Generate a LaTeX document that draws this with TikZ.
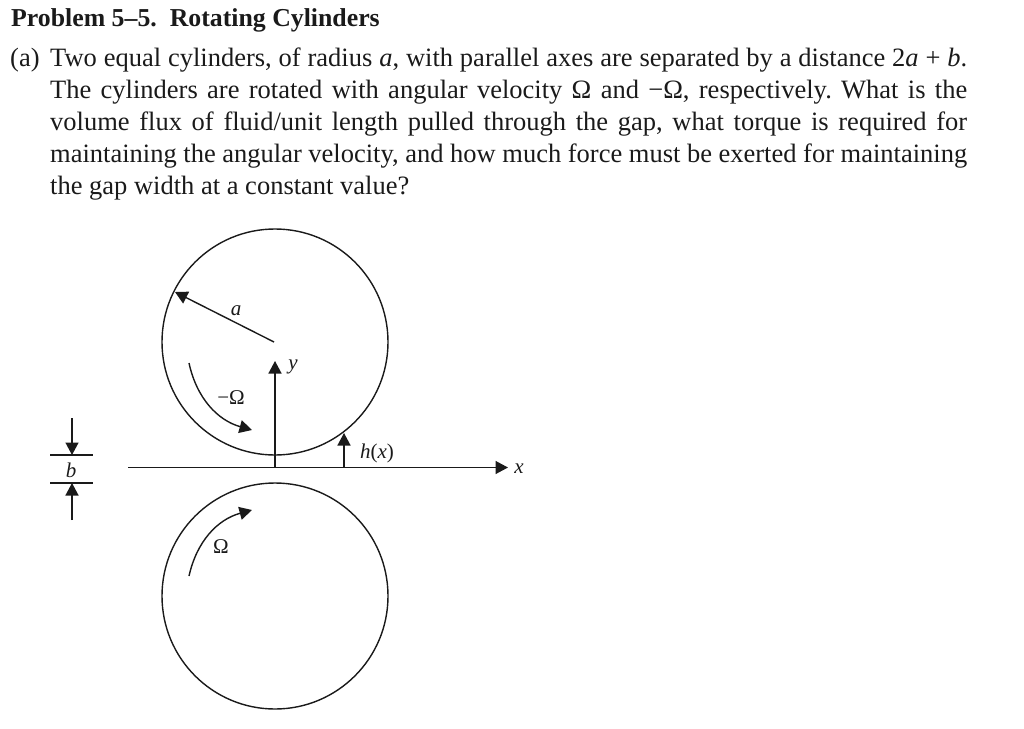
\documentclass[tikz,border=0pt]{standalone}
\usepackage{fontspec}
\setmainfont{Liberation Serif}
\usetikzlibrary{arrows.meta}
\definecolor{ink}{HTML}{1a1a1a}
\tikzset{
  line/.style={draw=ink, line width=1.4pt},
  tipline/.style={line, -{Triangle[length=12.5pt,width=13pt]}},
  body/.style={text=ink, inner sep=0pt, anchor=base west, font=\fontsize{26.5}{32}\selectfont\frenchspacing},
  small/.style={text=ink, inner sep=0pt, font=\fontsize{21}{24}\selectfont},
}
\begin{document}
\begin{tikzpicture}[x=1pt, y=-1pt]
  \useasboundingbox (0,0) rectangle (1024,728);

  % Heading and text
  \node[body, font=\fontsize{25.8}{32}\selectfont\bfseries] (title) at (11,26.5) {Problem 5–5.\ \ Rotating Cylinders};
  \node[body] (part) at (10,66) {(a)};
  \node[body, text width=917pt, align=justify] (para) at (50,66) {Two equal cylinders, of radius \textit{a}, with parallel axes are separated by a distance 2\textit{a} + \textit{b}.\linebreak
    The cylinders are rotated with angular velocity Ω and −Ω, respectively. What is the\linebreak
    volume flux of fluid/unit length pulled through the gap, what torque is required for\linebreak
    maintaining the angular velocity, and how much force must be exerted for maintaining\linebreak
    the gap width at a constant value?};

  % Cylinders
  \node[line, circle, minimum size=226pt, inner sep=0pt] (upper) at (275,342) {};
  \node[line, circle, minimum size=226pt, inner sep=0pt] (lower) at (275,596) {};

  % Axes
  \coordinate (xstart) at (128,467.5);
  \coordinate (origin) at (275,467.5);
  \coordinate (xend) at (508,467.5);
  \coordinate (yend) at (275,361);
  \coordinate (hstart) at (344,467.5);
  \coordinate (hend) at (344,433);
  \draw[tipline] (xstart) -- (xend);
  \draw[tipline] (origin) -- (yend);
  \draw[tipline] (hstart) -- (hend);
  \node[small] (xlabel) at (519,469) {\textit{x}};
  \node[small] (ylabel) at (293,367) {\textit{y}};
  \node[small] (hlabel) at (377,453) {\textit{h}(\textit{x})};

  % Radius
  \coordinate (rstart) at (274,342);
  \coordinate (rend) at (175,292);
  \draw[tipline] (rstart) -- (rend);
  \node[small] (alabel) at (236,311) {\textit{a}};

  % Rotation arrows
  \coordinate (upstart) at (189,363);
  \coordinate (upend) at (252,430);
  \coordinate (lowstart) at (189,576);
  \coordinate (lowend) at (252,510);
  \draw[tipline] (upstart) to[bend right=31] (upend);
  \draw[tipline] (lowstart) to[bend left=31] (lowend);
  \node[small] (minusomega) at (231,398) {−Ω};
  \node[small] (omega) at (221,547) {Ω};

  % Gap width
  \coordinate (gapa) at (50,455);
  \coordinate (gapb) at (93,455);
  \coordinate (gapc) at (50,483);
  \coordinate (gapd) at (93,483);
  \coordinate (topstart) at (72,418);
  \coordinate (toptip) at (72,455);
  \coordinate (botstart) at (72,520);
  \coordinate (bottip) at (72,483);
  \draw[line] (gapa) -- (gapb);
  \draw[line] (gapc) -- (gapd);
  \draw[tipline] (topstart) -- (toptip);
  \draw[tipline] (botstart) -- (bottip);
  \node[small] (blabel) at (71,470) {\textit{b}};
\end{tikzpicture}
\end{document}
